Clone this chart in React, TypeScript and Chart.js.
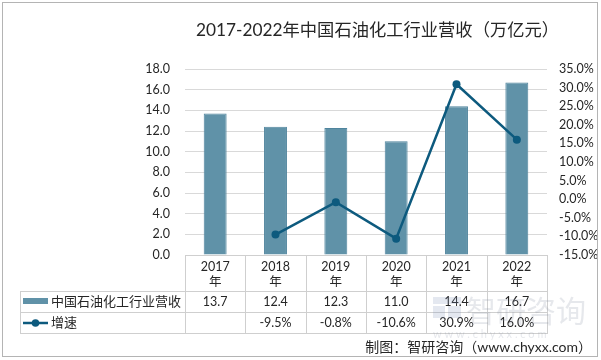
import React, { useEffect, useRef } from "react";
import { Chart, registerables } from "chart.js";

Chart.register(...registerables);

const categories = ["2017", "2018", "2019", "2020", "2021", "2022"];
const revenue = [13.7, 12.4, 12.3, 11.0, 14.4, 16.7];
const growth: (number | null)[] = [null, -9.5, -0.8, -10.6, 30.9, 16.0];
const revenueLabels = ["13.7", "12.4", "12.3", "11.0", "14.4", "16.7"];
const growthLabels = ["", "-9.5%", "-0.8%", "-10.6%", "30.9%", "16.0%"];
const titleText = "2017-2022年中国石油化工行业营收（万亿元）";
const revenueName = "中国石油化工行业营收";
const growthName = "增速";
const sourceText = "制图：智研咨询（www.chyxx.com）";

const FONT = "Lato, 'Noto Sans CJK SC', sans-serif";
const BAR_COLOR = "#6092a8";
const BAR_BORDER = "#4f849d";
const LINE_COLOR = "#0d5a7e";
const GRID = "#d9d9d9";
const TEXT = "#262626";

const decorPlugin = {
  id: "decor",
  afterDraw(chart: any) {
    const ctx = chart.ctx as CanvasRenderingContext2D;
    const { left, right, bottom } = chart.chartArea;
    const n = categories.length;
    const colW = (right - left) / n;
    const tableLeft = 20;
    const row1Top = 291.5;
    const row2Top = 312.5;
    const tableBottom = 333.5;

    ctx.save();
    // table lines
    ctx.strokeStyle = "#cfcfcf";
    ctx.lineWidth = 1;
    ctx.beginPath();
    for (let i = 0; i <= n; i++) {
      const x = Math.round(left + i * colW) + 0.5;
      ctx.moveTo(x, bottom);
      ctx.lineTo(x, tableBottom);
    }
    ctx.moveTo(tableLeft + 0.5, row1Top);
    ctx.lineTo(tableLeft + 0.5, tableBottom);
    [row1Top, row2Top, tableBottom].forEach((y) => {
      ctx.moveTo(tableLeft, y);
      ctx.lineTo(Math.round(right) + 1, y);
    });
    ctx.moveTo(left, Math.round(bottom) + 0.5);
    ctx.lineTo(right, Math.round(bottom) + 0.5);
    ctx.stroke();

    // legend keys
    ctx.fillStyle = BAR_COLOR;
    ctx.fillRect(23, 298, 25, 6);
    ctx.strokeStyle = LINE_COLOR;
    ctx.lineWidth = 2.5;
    ctx.beginPath();
    ctx.moveTo(23, 323);
    ctx.lineTo(48, 323);
    ctx.stroke();
    ctx.fillStyle = LINE_COLOR;
    ctx.beginPath();
    ctx.arc(35.5, 323, 3.8, 0, Math.PI * 2);
    ctx.fill();

    ctx.fillStyle = TEXT;
    ctx.textBaseline = "middle";
    ctx.textAlign = "left";
    ctx.font = `13px ${FONT}`;
    ctx.fillText(revenueName, 51, 302);
    ctx.fillText(growthName, 51, 323);

    ctx.textAlign = "center";
    ctx.font = `12.5px ${FONT}`;
    for (let i = 0; i < n; i++) {
      const cx = left + (i + 0.5) * colW;
      ctx.fillText(revenueLabels[i], cx, 302);
      if (growthLabels[i]) ctx.fillText(growthLabels[i], cx, 323);
    }

    // watermark
    ctx.fillStyle = "rgba(140,150,170,0.22)";
    ctx.font = `30px 'Noto Sans CJK SC', sans-serif`;
    ctx.textAlign = "left";
    ctx.fillText("智研咨询", 466, 311);
    ctx.font = `11px ${FONT}`;
    ctx.fillText("w w w . c h y x x . c o m", 433, 334);
    ctx.fillStyle = "rgba(120,140,180,0.2)";
    ctx.fillRect(433, 297, 28, 7);
    ctx.fillRect(433, 306, 12, 12);
    ctx.fillRect(448, 306, 13, 12);

    // title
    ctx.fillStyle = TEXT;
    ctx.textAlign = "center";
    ctx.font = `17.3px ${FONT}`;
    ctx.fillText(titleText, 377.5, 30);

    // source
    ctx.textAlign = "right";
    ctx.font = `14px ${FONT}`;
    ctx.fillText(sourceText, 592, 347);

    // outer border
    ctx.strokeStyle = "#b4b4b4";
    ctx.lineWidth = 1;
    ctx.strokeRect(2.5, 2.5, 595, 354);
    ctx.restore();
  },
};

export default function App() {
  const ref = useRef<HTMLCanvasElement | null>(null);

  useEffect(() => {
    if (!ref.current) return;
    const chart = new Chart(ref.current, {
      data: {
        labels: categories.map((c) => [c, "年"]),
        datasets: [
          {
            type: "line",
            label: growthName,
            data: growth,
            yAxisID: "y1",
            borderColor: LINE_COLOR,
            backgroundColor: LINE_COLOR,
            borderWidth: 2.5,
            pointRadius: 4,
            pointBackgroundColor: LINE_COLOR,
            pointBorderWidth: 0,
            tension: 0,
            order: 0,
          },
          {
            type: "bar",
            label: revenueName,
            data: revenue,
            yAxisID: "y",
            backgroundColor: BAR_COLOR,
            borderColor: BAR_BORDER,
            borderWidth: 1,
            barPercentage: 0.38,
            categoryPercentage: 1,
            order: 1,
          },
        ],
      } as any,
      options: {
        responsive: false,
        animation: false,
        layout: { padding: { top: 69, left: 0, right: 0, bottom: 0 } },
        plugins: {
          legend: { display: false },
          title: { display: false },
          tooltip: { enabled: false },
        },
        scales: {
          x: {
            offset: true,
            grid: { display: false, drawTicks: false },
            border: { display: false },
            ticks: {
              color: TEXT,
              font: { family: FONT, size: 12.5, lineHeight: 1.25 },
              padding: 4,
              maxRotation: 0,
              autoSkip: false,
            },
            afterFit(scale: any) {
              scale.height = 105;
            },
          },
          y: {
            position: "left",
            min: 0,
            max: 18,
            grid: { color: GRID, drawTicks: false },
            border: { display: false },
            ticks: {
              stepSize: 2,
              padding: 15,
              color: TEXT,
              font: { family: FONT, size: 12.5 },
              callback: (v: any) => Number(v).toFixed(1),
            },
            afterFit(scale: any) {
              scale.width = 185;
            },
          },
          y1: {
            position: "right",
            min: -15,
            max: 35,
            grid: { display: false, drawTicks: false },
            border: { display: false },
            ticks: {
              stepSize: 5,
              padding: 12,
              color: TEXT,
              font: { family: FONT, size: 12.5 },
              callback: (v: any) => Number(v).toFixed(1) + "%",
            },
            afterFit(scale: any) {
              scale.width = 54;
            },
          },
        },
      } as any,
      plugins: [decorPlugin],
    });
    return () => chart.destroy();
  }, []);

  return (
    <div style={{ position: "absolute", left: 0, top: 0, width: 601, height: 360, background: "#fff" }}>
      <canvas ref={ref} width={601} height={360} style={{ display: "block" }} />
    </div>
  );
}
